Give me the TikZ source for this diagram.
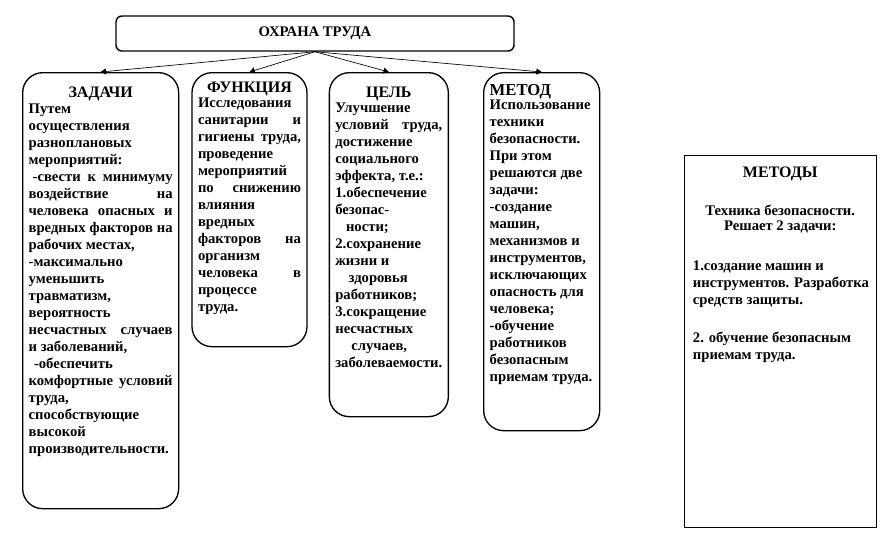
\documentclass[tikz,border=0pt]{standalone}
\usepackage{fontspec}
\setmainfont{Liberation Serif}
\usetikzlibrary{positioning,arrows.meta}

% full-width (justified) line and box heading
\newcommand{\jl}[1]{\makebox[\linewidth][s]{#1}}
\newcommand{\boxhead}[2]{{\centering\bfseries\fontsize{12}{12}\selectfont #1\par}\vspace{#2}}

\begin{document}
\begin{tikzpicture}[x=0.75pt, y=-0.75pt,
		title/.style={draw, line width=1.1pt, rounded corners=4.5pt, minimum width=298.5pt, minimum height=26.25pt, inner sep=0pt, font=\fontsize{11}{13}\selectfont\bfseries},
		block/.style={draw, line width=1pt, rounded corners=15pt, inner xsep=4.5pt, inner ysep=0pt, font=\fontsize{11}{12.75}\selectfont\bfseries},
		sheet/.style={draw, line width=0.4pt, inner xsep=6.5pt, inner ysep=0pt, font=\fontsize{11}{12.75}\selectfont\bfseries},
		link/.style={line width=0.5pt, -{Triangle[length=4pt,width=4.5pt]}}
	]
	\useasboundingbox (0,0) rectangle (891,533);
	\node[title] (ohrana) at (315,33.5) {ОХРАНА ТРУДА};
	\node[block, anchor=north west] (zadachi) at (22,72) {\parbox[c][327pt][t]{108pt}{%
		\vspace*{10.8pt}
		\boxhead{ЗАДАЧИ}{-0.75pt}
		\raggedright
		Путем\\
		осуществления\\
		разноплановых\\
		мероприятий:\\
		\jl{\hspace*{3pt}-свести к минимуму}\\
		\jl{воздействие на}\\
		\jl{человека опасных и}\\
		\jl{вредных факторов на}\\
		рабочих местах,\\
		-максимально\\
		уменьшить\\
		травматизм,\\
		вероятность\\
		\jl{несчастных случаев}\\
		и заболеваний,\\
		\hspace*{4pt}-обеспечить\\
		\jl{комфортные условий}\\
		труда,\\
		способствующие\\
		высокой\\
		производительности.}};
	\node[block, right=9pt of zadachi.north east, anchor=north west] (funkciya) {\parbox[c][205.5pt][t]{77.25pt}{%
		\vspace*{7pt}
		\boxhead{ФУНКЦИЯ}{-1.5pt}
		\raggedright
		Исследования\\
		\jl{санитарии и}\\
		\jl{гигиены труда,}\\
		проведение\\
		мероприятий\\
		\jl{по снижению}\\
		влияния\\
		вредных\\
		\jl{факторов на}\\
		организм\\
		\jl{человека в}\\
		процессе\\
		труда.}};
	\node[block, right=15.75pt of funkciya.north east, anchor=north west] (cel) {\parbox[c][258pt][t]{80.25pt}{%
		\vspace*{10.8pt}
		\boxhead{ЦЕЛЬ}{-1.5pt}
		\raggedright
		Улучшение\\
		\jl{условий труда,}\\
		достижение\\
		социального\\
		эффекта, т.е.:\\
		1.обеспечение\\
		безопас-\\
		\hspace*{8pt}ности;\\
		2.сохранение\\
		жизни и\\
		\hspace*{10pt}здоровья\\
		работников;\\
		3.сокращение\\
		несчастных\\
		\hspace*{12pt}случаев,\\
		заболеваемости.}};
	\node[block, right=25.5pt of cel.north east, anchor=north west] (metod) {\parbox[c][268.5pt][t]{78pt}{%
		\vspace*{9pt}
		{\fontsize{12.5}{12}\selectfont МЕТОД\par}\vspace{-2.5pt}
		\raggedright
		Использование\\
		техники\\
		безопасности.\\
		При этом\\
		решаются две\\
		задачи:\\
		-создание\\
		машин,\\
		механизмов и\\
		инструментов,\\
		исключающих\\
		опасность для\\
		человека;\\
		-обучение\\
		работников\\
		безопасным\\
		приемам труда.}};
	\node[sheet, anchor=north west] (metody) at (684,155) {\parbox[c][279pt][t]{131pt}{%
		\vspace*{8.5pt}
		\boxhead{МЕТОДЫ}{15.75pt}
		{\centering Техника безопасности.\\[-1.5pt]
		Решает 2 задачи:\par}
		\vspace{17.25pt}
		\raggedright
		1.создание машин и\\
		\mbox{инструментов. Разработка}\\
		средств защиты.\par
		\vspace{16.25pt}
		2. обучение безопасным\\
		приемам труда.}};
	\draw[link] (ohrana.south) -- (zadachi.north);
	\draw[link] (ohrana.south) -- (funkciya.north);
	\draw[link] (ohrana.south) -- (cel.north);
	\draw[link] (ohrana.south) -- (metod.north);
\end{tikzpicture}
\end{document}
